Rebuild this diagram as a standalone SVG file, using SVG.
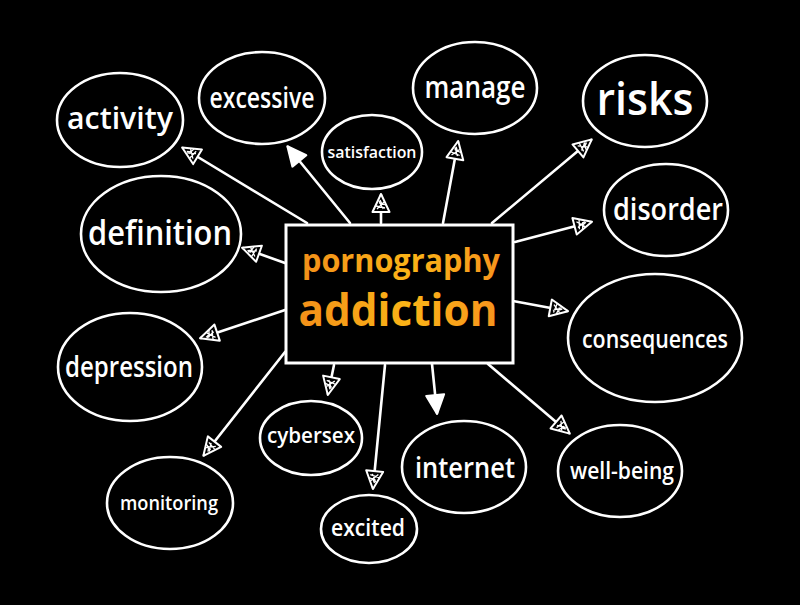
<svg xmlns="http://www.w3.org/2000/svg" width="800" height="605" viewBox="0 0 800 605">
  <defs>
    <style>
      .bg { fill: #000; }
      .node ellipse { fill: none; stroke: #fff; stroke-width: 2.6; }
      .node text { fill: #fff; font-family: "Open Sans", "Noto Sans", "DejaVu Sans", sans-serif; font-weight: 600; text-anchor: middle; }
      .conn line { stroke: #fff; stroke-width: 2.6; stroke-linecap: round; }
      .center rect { fill: #000; stroke: #fff; stroke-width: 3; }
      .center text { fill: url(#orange); font-family: "Open Sans", "Noto Sans", "DejaVu Sans", sans-serif; font-weight: 700; text-anchor: middle; }
    </style>
    <linearGradient id="orange" x1="0" y1="0" x2="1" y2="0">
      <stop offset="0" stop-color="#f39019"/>
      <stop offset="0.55" stop-color="#fbb417"/>
      <stop offset="1" stop-color="#f7941d"/>
    </linearGradient>
    <marker id="hatch" viewBox="-20 -11 23 22" refX="0" refY="0" markerWidth="23" markerHeight="22" markerUnits="userSpaceOnUse" orient="auto">
      <path d="M1,0 L-17,-8.5 L-17,8.5 Z" fill="#000" stroke="#fff" stroke-width="2" stroke-linejoin="round"/>
      <path d="M-14,-4 L-7,3 M-11,-5 L-13,4 M-8,-2 L-10,5 M-5,-1 L-9,1 M-14,2 L-6,-2" stroke="#fff" stroke-width="1.3" fill="none"/>
    </marker>
    <marker id="solid" viewBox="-20 -11 23 22" refX="0" refY="0" markerWidth="23" markerHeight="22" markerUnits="userSpaceOnUse" orient="auto">
      <path d="M1,0 L-18,-9 L-18,9 Z" fill="#fff" stroke="#fff" stroke-width="2" stroke-linejoin="round"/>
    </marker>
  </defs>

  <rect class="bg" x="0" y="0" width="800" height="605"/>

  <g id="connectors" class="conn">
    <line x1="307" y1="223" x2="183" y2="148" marker-end="url(#hatch)"/>
    <line x1="350" y1="223" x2="288" y2="147" marker-end="url(#solid)"/>
    <line x1="381" y1="223" x2="381" y2="195" marker-end="url(#hatch)"/>
    <line x1="443" y1="223" x2="458" y2="142" marker-end="url(#hatch)"/>
    <line x1="492" y1="223" x2="591" y2="140" marker-end="url(#hatch)"/>
    <line x1="515" y1="242" x2="591" y2="222" marker-end="url(#hatch)"/>
    <line x1="285" y1="263" x2="243" y2="248" marker-end="url(#hatch)"/>
    <line x1="285" y1="310" x2="201" y2="338" marker-end="url(#hatch)"/>
    <line x1="285" y1="352" x2="204" y2="455" marker-end="url(#hatch)"/>
    <line x1="334" y1="365" x2="328" y2="394" marker-end="url(#hatch)"/>
    <line x1="385" y1="365" x2="373" y2="488" marker-end="url(#hatch)"/>
    <line x1="432" y1="364" x2="437" y2="413" marker-end="url(#solid)"/>
    <line x1="513" y1="301" x2="567" y2="311" marker-end="url(#hatch)"/>
    <line x1="488" y1="364" x2="569" y2="433" marker-end="url(#hatch)"/>
  </g>

  <g id="center" class="center">
    <rect x="286" y="225" width="227" height="138"/>
    <text x="401" y="272" font-size="33" textLength="198" lengthAdjust="spacingAndGlyphs">pornography</text>
    <text x="398" y="326" font-size="44" textLength="199" lengthAdjust="spacingAndGlyphs">addiction</text>
  </g>

  <g id="activity" class="node">
    <ellipse cx="120" cy="120" rx="63" ry="47"/>
    <text x="120" y="129" font-size="30" textLength="106" lengthAdjust="spacingAndGlyphs">activity</text>
  </g>
  <g id="excessive" class="node">
    <ellipse cx="262" cy="98" rx="63" ry="46"/>
    <text x="262" y="108" font-size="28" textLength="105" lengthAdjust="spacingAndGlyphs">excessive</text>
  </g>
  <g id="satisfaction" class="node">
    <ellipse cx="372" cy="152" rx="50" ry="37"/>
    <text x="372" y="158" font-size="17" textLength="89" lengthAdjust="spacingAndGlyphs">satisfaction</text>
  </g>
  <g id="manage" class="node">
    <ellipse cx="475" cy="88" rx="62" ry="46"/>
    <text x="475" y="98" font-size="30" textLength="101" lengthAdjust="spacingAndGlyphs">manage</text>
  </g>
  <g id="risks" class="node">
    <ellipse cx="645" cy="101" rx="62" ry="46"/>
    <text x="645" y="115" font-size="46" textLength="97" lengthAdjust="spacingAndGlyphs">risks</text>
  </g>
  <g id="disorder" class="node">
    <ellipse cx="666" cy="210" rx="62" ry="46"/>
    <text x="668" y="220" font-size="30" textLength="110" lengthAdjust="spacingAndGlyphs">disorder</text>
  </g>
  <g id="definition" class="node">
    <ellipse cx="161" cy="234" rx="80" ry="58"/>
    <text x="160" y="245" font-size="34" textLength="144" lengthAdjust="spacingAndGlyphs">definition</text>
  </g>
  <g id="depression" class="node">
    <ellipse cx="130" cy="367" rx="72" ry="54"/>
    <text x="129" y="377" font-size="28" textLength="128" lengthAdjust="spacingAndGlyphs">depression</text>
  </g>
  <g id="consequences" class="node">
    <ellipse cx="655" cy="338" rx="87" ry="64"/>
    <text x="655" y="348" font-size="26" textLength="146" lengthAdjust="spacingAndGlyphs">consequences</text>
  </g>
  <g id="cybersex" class="node">
    <ellipse cx="311" cy="438" rx="51" ry="37"/>
    <text x="311" y="443" font-size="22" textLength="88" lengthAdjust="spacingAndGlyphs">cybersex</text>
  </g>
  <g id="internet" class="node">
    <ellipse cx="464" cy="467" rx="62" ry="46"/>
    <text x="465" y="478" font-size="28" textLength="100" lengthAdjust="spacingAndGlyphs">internet</text>
  </g>
  <g id="well-being" class="node">
    <ellipse cx="620" cy="471" rx="62" ry="46"/>
    <text x="622" y="479" font-size="24" textLength="104" lengthAdjust="spacingAndGlyphs">well-being</text>
  </g>
  <g id="monitoring" class="node">
    <ellipse cx="170" cy="503" rx="63" ry="46"/>
    <text x="169" y="510" font-size="20" textLength="98" lengthAdjust="spacingAndGlyphs">monitoring</text>
  </g>
  <g id="excited" class="node">
    <ellipse cx="369" cy="529" rx="48" ry="34"/>
    <text x="368" y="536" font-size="24" textLength="74" lengthAdjust="spacingAndGlyphs">excited</text>
  </g>
</svg>
